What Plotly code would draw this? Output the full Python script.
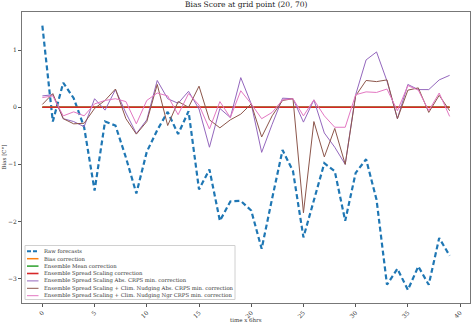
import plotly.graph_objects as go

# Lead time index (steps of 6 hours)
lead = list(range(40))

raw_forecasts = [1.43, -0.25, 0.43, 0.16, -0.35, -1.46, -0.25, -0.32, -0.88, -1.51,
                 -0.78, -0.40, -0.08, -0.47, -0.07, -1.44, -1.09, -1.99, -1.65, -1.64,
                 -1.81, -2.48, -1.60, -0.75, -1.12, -2.28, -1.63, -0.98, -1.12, -1.99,
                 -1.15, -0.91, -1.62, -3.11, -2.83, -3.20, -2.79, -3.11, -2.29, -2.60]

bias_correction = [0.0] * 40
ens_mean_correction = [0.0] * 40
ens_spread_scaling = [0.0] * 40

ess_abs_crps = [0.20, 0.22, -0.20, -0.25, -0.34, 0.15, -0.05, 0.31, -0.10, -0.46,
                -0.22, 0.47, 0.15, 0.07, 0.28, -0.03, -0.70, -0.02, -0.18, 0.52,
                0.06, -0.79, -0.30, 0.16, 0.15, -0.26, 0.13, -0.45, -0.70, -1.00,
                0.22, 0.83, 0.97, 0.46, -0.20, 0.40, 0.31, 0.31, 0.48, 0.56]

ess_clim_abs_crps = [0.05, 0.24, -0.20, -0.29, -0.28, -0.02, 0.12, 0.32, -0.20, -0.47,
                     -0.25, 0.40, -0.32, 0.10, 0.00, 0.37, -0.22, -0.36, -0.22, -0.12,
                     0.06, -0.52, -0.15, 0.12, 0.15, -1.85, -0.25, -0.87, -0.37, -1.00,
                     0.20, 0.47, 0.45, 0.48, -0.20, 0.30, 0.34, -0.09, 0.21, -0.06]

ess_clim_ngr_crps = [0.17, 0.20, -0.15, -0.08, -0.15, 0.06, 0.12, 0.15, 0.10, -0.29,
                     0.12, 0.25, 0.20, -0.13, 0.24, 0.04, -0.38, 0.10, -0.18, 0.29,
                     0.06, -0.20, -0.09, 0.13, 0.15, -0.15, 0.13, -0.15, -0.35, -0.35,
                     0.22, 0.27, 0.26, 0.32, -0.06, 0.38, 0.30, -0.06, 0.25, -0.16]

x_ticks = [0, 5, 10, 15, 20, 25, 30, 35, 40]
y_ticks = [1, 0, -1, -2, -3]
y_tick_text = ["1", "0", "\u22121", "\u22122", "\u22123"]

series = [
    ("Raw forecasts", raw_forecasts, "#1f77b4", 2.2, "5px,3px"),
    ("Bias correction", bias_correction, "#ff7f0e", 1.5, "solid"),
    ("Ensemble Mean correction", ens_mean_correction, "#2ca02c", 1.5, "solid"),
    ("Ensemble Spread Scaling correction", ens_spread_scaling, "#d62728", 1.6, "solid"),
    ("Ensemble Spread Scaling Abs. CRPS min. correction", ess_abs_crps, "#9467bd", 1.0, "solid"),
    ("Ensemble Spread Scaling + Clim. Nudging Abs. CRPS min. correction", ess_clim_abs_crps, "#8c564b", 1.0, "solid"),
    ("Ensemble Spread Scaling + Clim. Nudging Ngr CRPS min. correction", ess_clim_ngr_crps, "#e377c2", 1.0, "solid"),
]

font_family = "DejaVu Serif"
W, H = 474, 325
ML, MR, MT, MB = 22, 4, 12, 22
PW, PH = W - ML - MR, H - MT - MB


def px_x(px):
    return (px - ML) / PW


def px_y(py):
    return (H - MB - py) / PH


fig = go.Figure()
for name, vals, color, width, dash in series:
    fig.add_trace(go.Scatter(
        x=lead, y=vals, mode="lines", name=name, showlegend=False,
        line=dict(color=color, width=width, dash=dash),
    ))

# Compact legend box in the lower-left corner of the axes
shapes = [dict(type="rect", xref="paper", yref="paper",
               x0=px_x(25), x1=px_x(235), y0=px_y(299.5), y1=px_y(245.5),
               line=dict(color="#d0d0d0", width=1), fillcolor="rgba(255,255,255,0.85)",
               layer="above")]
annotations = []
row0, step = 251.3, 7.4
for k, (name, vals, color, width, dash) in enumerate(series):
    yy = px_y(row0 + k * step)
    shapes.append(dict(type="line", xref="paper", yref="paper",
                       x0=px_x(27), x1=px_x(38.5), y0=yy, y1=yy,
                       line=dict(color=color, width=min(width, 1.6) if k else 2.0,
                                 dash="4px,2px" if k == 0 else "solid"),
                       layer="above"))
    annotations.append(dict(text=name, x=px_x(42), y=yy, xref="paper", yref="paper",
                            xanchor="left", yanchor="middle", showarrow=False,
                            font=dict(family=font_family, size=5.3, color="#333")))

annotations += [
    dict(text="Bias Score at grid point (20, 70)", x=0.5, y=1, xref="paper", yref="paper",
         xanchor="center", yanchor="bottom", yshift=1, showarrow=False,
         font=dict(family=font_family, size=7.5, color="#222")),
    dict(text="time x 6hrs", x=0.5, y=0, xref="paper", yref="paper",
         xanchor="center", yanchor="top", yshift=-11.5, showarrow=False,
         font=dict(family=font_family, size=5.5, color="#333")),
    dict(text="Bias [C\u00b0]", x=0, y=0.5, xref="paper", yref="paper",
         xanchor="right", yanchor="middle", xshift=-14, textangle=-90, showarrow=False,
         font=dict(family=font_family, size=5.5, color="#333")),
]

fig.update_layout(
    width=W, height=H,
    margin=dict(l=ML, r=MR, t=MT, b=MB),
    paper_bgcolor="white", plot_bgcolor="white",
    font=dict(family=font_family, size=7, color="#333"),
    showlegend=False,
    shapes=shapes,
    annotations=annotations,
)

fig.update_xaxes(
    range=[-1.95, 40.95], tickmode="array", tickvals=x_ticks,
    ticktext=[str(t) for t in x_ticks], tickangle=-45,
    ticks="outside", ticklen=3, tickcolor="#555", tickfont=dict(size=6),
    showgrid=False, zeroline=False,
    showline=True, linecolor="#777", linewidth=1, mirror=True,
)
fig.update_yaxes(
    range=[-3.43, 1.67], tickmode="array", tickvals=y_ticks, ticktext=y_tick_text,
    ticks="outside", ticklen=3, tickcolor="#555", tickfont=dict(size=6),
    showgrid=False, zeroline=False,
    showline=True, linecolor="#777", linewidth=1, mirror=True,
)

fig.write_html("out.html")
